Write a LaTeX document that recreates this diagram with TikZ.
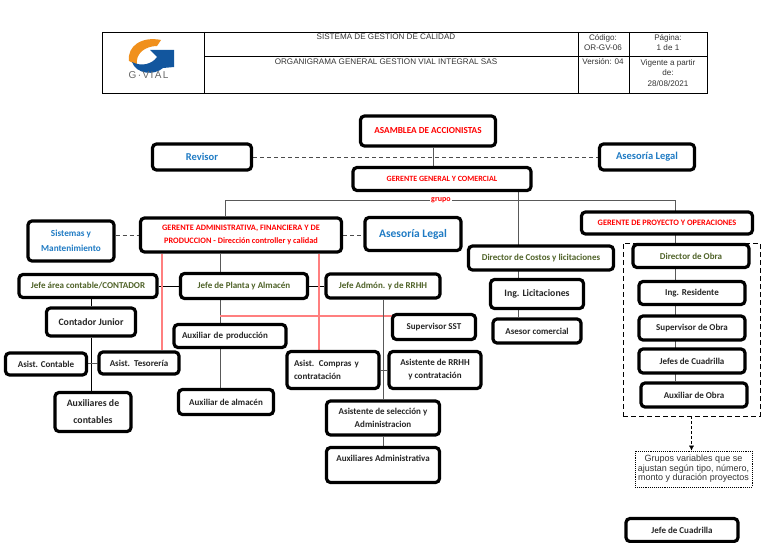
\documentclass[tikz,border=0pt]{standalone}
\usepackage{fontspec}
\setmainfont{Carlito}
\newfontfamily\headfont{Liberation Sans}
\usetikzlibrary{arrows.meta,backgrounds}
\definecolor{rojo}{HTML}{FF0000}
\definecolor{azul}{HTML}{1F7BC4}
\definecolor{verde}{HTML}{4F6228}
\definecolor{rosa}{HTML}{FF7F7F}
\definecolor{gvnaranja}{HTML}{F0901C}
\definecolor{gvazul}{HTML}{12569E}
\tikzset{
    caja/.style={draw,line width=3.2pt,rounded corners=4pt,fill=white,align=center,
        inner sep=0pt,text=black!85,font=\bfseries\fontsize{9}{13}\selectfont},
    roja/.style={caja,text=rojo,font=\bfseries\fontsize{8.3}{13}\selectfont},
    azulada/.style={caja,text=azul,font=\bfseries\fontsize{10.5}{14}\selectfont},
    verdosa/.style={caja,text=verde},
    linea/.style={draw=black!65,line width=.9pt},
    lineared/.style={draw=rosa,line width=1.3pt},
    punteada/.style={draw=black!70,line width=1pt,dash pattern=on 4pt off 3pt},
    cabecera/.style={font=\headfont\fontsize{8.1}{10.5}\selectfont,align=center,text=black!80}
}

\begin{document}
\begin{tikzpicture}[x=1pt,y=-1pt]
      \useasboundingbox (0,0) rectangle (768,543);
      % encabezado
      \draw[line width=.8pt] (102,32) rectangle (707,93);
      \draw[line width=.8pt] (204,32) -- (204,93) (578,32) -- (578,93) (629,32) -- (629,93) (204,56) -- (707,56);
      \node[cabecera] (sistema) at (386,37) {SISTEMA DE GESTION DE CALIDAD};
      \node[cabecera] (organigrama) at (386,61.5) {ORGANIGRAMA GENERAL GESTION VIAL INTEGRAL SAS};
      \node[cabecera] (codigo) at (603,42.5) {Código:\\OR-GV-06};
      \node[cabecera] (version) at (603,61.5) {Versión: 04};
      \node[cabecera] (pagina) at (668,42.5) {Página:\\1 de 1};
      \node[cabecera] (vigente) at (668,73) {Vigente a partir\\de:\\28/08/2021};
      % logo
      \fill[gvnaranja] (161,40) .. controls (142,36) and (127,46) .. (129,61) -- (137,65) .. controls (135,53) and (146,46) .. (157,46) -- cycle;
      \fill[gvazul] (132,62) .. controls (136,74) and (154,76) .. (163,68) -- (174,67) -- (174,50) -- (150,50) -- (157,57) .. controls (152,64) and (142,67) .. (132,62) -- cycle;
      \node[font=\headfont\fontsize{10}{11}\selectfont,text=black!60] (gvial) at (148.5,75.5) {\addfontfeature{LetterSpace=14}G·VIAL};
      % nodes
      \node[roja,font=\bfseries\fontsize{9.2}{13}\selectfont,minimum width=135pt,minimum height=30pt] (asamblea) at (428,131) {ASAMBLEA DE ACCIONISTAS};
      \node[azulada,minimum width=99pt,minimum height=26pt] (revisor) at (202,157) {Revisor};
      \node[azulada,minimum width=95pt,minimum height=26pt] (asesoria) at (647,157) {Asesoría Legal};
      \node[roja,font=\bfseries\fontsize{8}{13}\selectfont,minimum width=178pt,minimum height=23pt] (general) at (442,179) {GERENTE GENERAL Y COMERCIAL};
      \node[roja,minimum width=201pt,minimum height=34pt] (administrativa) at (241,235) {GERENTE ADMINISTRATIVA, FINANCIERA Y DE\\PRODUCCION - Dirección controller y calidad};
      \node[caja,text=azul,font=\bfseries\fontsize{9.2}{15}\selectfont,minimum width=86pt,minimum height=40pt] (sistemas) at (71,241) {Sistemas y\\Mantenimiento};
      \node[azulada,font=\bfseries\fontsize{11.5}{14}\selectfont,minimum width=96pt,minimum height=33pt] (legal) at (413,234) {Asesoría Legal};
      \node[roja,minimum width=171pt,minimum height=22pt] (proyecto) at (667,223) {GERENTE DE PROYECTO Y OPERACIONES};
      \node[verdosa,minimum width=138pt,minimum height=23pt] (contador) at (88,286) {Jefe área contable/CONTADOR};
      \node[verdosa,minimum width=127pt,minimum height=25pt] (planta) at (244,286) {Jefe de Planta y Almacén};
      \node[verdosa,minimum width=114pt,minimum height=24pt] (admon) at (383,286) {Jefe Admón. y de RRHH};
      \node[verdosa,minimum width=145pt,minimum height=24pt] (costos) at (541,258) {Director de Costos y licitaciones};
      \node[verdosa,minimum width=116pt,minimum height=23pt] (obra) at (691,256) {Director de Obra};
      \node[caja,font=\bfseries\fontsize{9.8}{13}\selectfont,minimum width=89pt,minimum height=28pt] (junior) at (91,322) {Contador Junior};
      \node[caja,minimum width=81pt,minimum height=22pt] (contable) at (46,364) {Asist. Contable};
      \node[caja,minimum width=80pt,minimum height=22pt] (tesoreria) at (139,363) {Asist.\ \ Tesorería};
      \node[caja,font=\bfseries\fontsize{9.8}{17}\selectfont,minimum width=76pt,minimum height=39pt] (auxiliares) at (93,412) {Auxiliares de\\contables};
      \node[caja,text width=96pt,align=left,minimum width=112pt,minimum height=23pt] (produccion) at (230,336) {Auxiliar de producción};
      \node[caja,minimum width=95pt,minimum height=25pt] (almacen) at (226,402) {Auxiliar de almacén};
      \node[caja,text width=78pt,align=left,minimum width=92pt,minimum height=37pt] (compras) at (333,370) {Asist. Compras y\\contratación};
      \node[caja,minimum width=92pt,minimum height=37pt] (rrhh) at (435,370) {Asistente de RRHH\\y contratación};
      \node[caja,minimum width=83pt,minimum height=25pt] (sst) at (434,327) {Supervisor SST};
      \node[caja,minimum width=113pt,minimum height=34pt] (seleccion) at (383,418) {Asistente de selección y\\Administracion};
      \node[caja,minimum width=113pt,minimum height=35pt] (auxadmin) at (383,465) {Auxiliares Administrativa\\\mbox{}};
      \node[caja,font=\bfseries\fontsize{9.8}{13}\selectfont,minimum width=93pt,minimum height=29pt] (licitaciones) at (537,294) {Ing. Licitaciones};
      \node[caja,minimum width=88pt,minimum height=24pt] (comercial) at (537,331) {Asesor comercial};
      \node[caja,minimum width=106pt,minimum height=23pt] (residente) at (692,293) {Ing. Residente};
      \node[caja,minimum width=106pt,minimum height=24pt] (supervisor) at (692,328) {Supervisor de Obra};
      \node[caja,minimum width=106pt,minimum height=24pt] (jefes) at (692,361) {Jefes de Cuadrilla};
      \node[caja,minimum width=106pt,minimum height=24pt] (auxobra) at (694,395) {Auxiliar de Obra};
      \node[caja,minimum width=112pt,minimum height=23pt] (cuadrilla) at (682,530) {Jefe de Cuadrilla};
      \node[draw,line width=.8pt,dash pattern=on 5pt off 3pt,minimum width=137pt,minimum height=173pt] (grupo) at (691.5,329.5) {};
      \node[draw,densely dotted,line width=.9pt,minimum width=117pt,minimum height=36pt,inner sep=0pt,align=center,
          font=\headfont\fontsize{9}{9.5}\selectfont,text=black!80] (variables) at (693.5,469) {Grupos variables que se\\ajustan según tipo, número,\\monto y duración proyectos};
      %edges
      \coordinate (tronco) at (433,147);
      \coordinate (busizq) at (225,200);
      \coordinate (busmed) at (518,200);
      \coordinate (busder) at (675,200);
      \coordinate (ejeplanta) at (220,300);
      \coordinate (rojouno) at (162,300);
      \coordinate (rojodos) at (319,300);
      \coordinate (rojoizq) at (220,316);
      \coordinate (rojoder) at (395,316);
      \begin{scope}[on background layer]
      \path[punteada] (revisor) -- (asesoria);
      \path[linea] (asamblea.south -| tronco) -- (general.north -| tronco);
      \path[linea] (general.south -| busmed) -- (busmed);
      \path[linea] (busizq) -- (busder);
      \path[linea] (busizq) -- (busizq |- administrativa.north);
      \path[linea] (busmed) -- (busmed |- comercial.north);
      \path[linea] (busder) -- (busder |- auxobra.north);
      \path[punteada] (sistemas.east |- administrativa) -- (administrativa.west);
      \path[punteada] (administrativa.east) -- (legal.west |- administrativa);
      \path[linea,black] (contador) -- (planta);
      \path[linea,black] (planta) -- (admon);
      \path[linea] (administrativa.south -| ejeplanta) -- (ejeplanta |- almacen.north);
      \path[lineared] (administrativa.south -| rojouno) -- (tesoreria.north -| rojouno);
      \path[lineared] (administrativa.south -| rojodos) -- (compras.north -| rojodos);
      \path[lineared] (rojoizq) -- (rojoder);
      \path[linea,black] (contador.south -| junior) -- (junior.north);
      \path[linea,black] (junior.south) -- (junior.south |- auxiliares.north);
      \path[linea] (contable) -- (tesoreria);
      \path[linea] (admon) -- (seleccion);
      \path[linea] (compras) -- (rrhh);
      \path[linea] (seleccion) -- (auxadmin);
      \end{scope}
      \draw[densely dashed,-{Latex[length=5pt,width=5pt]}] (grupo.south) -- (grupo.south |- variables.north);
      % rotulo
      \node[text=rojo,fill=white,font=\bfseries\fontsize{8}{9}\selectfont,inner sep=1pt] (rotulo) at (441,200) {grupo};
\end{tikzpicture}
\end{document}
